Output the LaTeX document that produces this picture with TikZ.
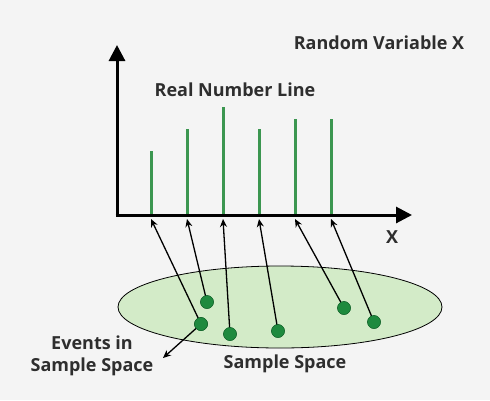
\documentclass[tikz,border=0pt]{standalone}
\usepackage{fontspec}
\setmainfont{Open Sans}
\usetikzlibrary{arrows.meta,shapes.geometric}
\definecolor{bg}{HTML}{F4F4F4}
\definecolor{bar}{HTML}{3B9650}
\definecolor{dot}{HTML}{1E8A3E}
\definecolor{ellfill}{HTML}{D3EBC8}
\tikzset{
  axis/.style={line width=3pt,-{Triangle[length=16pt,width=16pt]}},
  barline/.style={bar,line width=3pt},
  evt/.style={circle,fill=dot,draw=dot!70!black,line width=0.4pt,minimum size=13pt,inner sep=0pt},
  maparrow/.style={line width=1.3pt,-{Stealth[length=8pt,width=7pt]}},
  lbl/.style={font=\bfseries\fontsize{18}{22}\selectfont,text=black!82,inner sep=0pt}
}
\begin{document}
\begin{tikzpicture}[x=1pt,y=-1pt]
\fill[bg] (0,0) rectangle (490,400);
\useasboundingbox (0,0) rectangle (490,400);
% sample space
\node[ellipse,draw=black,line width=0.8pt,fill=ellfill,minimum width=324pt,minimum height=82pt,inner sep=0pt] (ss) at (280,307) {};
% axes
\coordinate (o) at (117,215);
\coordinate (ytip) at (117,45);
\coordinate (xtip) at (412,215);
\draw[axis] (117,216.5) -- (ytip);
\draw[axis] (115.5,215) -- (xtip);
% bars
\foreach \n/\x/\t in {1/151/151,2/187/129,3/223/107,4/259/129,5/295/119,6/331/119}{
  \coordinate (b\n) at (\x,214);
  \coordinate (t\n) at (\x,\t);
  \coordinate (a\n) at (\x,219);
  \draw[barline] (b\n) -- (t\n);
}
% events
\node[evt] (e1) at (201,324) {};
\node[evt] (e2) at (207,302) {};
\node[evt] (e3) at (230,334) {};
\node[evt] (e4) at (278,331) {};
\node[evt] (e5) at (344,308) {};
\node[evt] (e6) at (374,322) {};
\draw[maparrow] (e1.center) -- (a1);
\draw[maparrow] (e2.center) -- (a2);
\draw[maparrow] (e3.center) -- (a3);
\draw[maparrow] (e4.center) -- (a4);
\draw[maparrow] (e5.center) -- (a5);
\draw[maparrow] (e6.center) -- (a6);
\foreach \n in {1,...,6}{\node[evt] at (e\n) {};}
% labels
\node[lbl] (rvx) at (379,43) {Random Variable X};
\node[lbl] (rnl) at (235,90) {Real Number Line};
\node[lbl] (xl) at (392,237) {X};
\node[lbl] (ssl) at (285,364) {Sample Space};
\node[lbl,align=center] (evl) at (92,356) {Events in\\Sample Space};
\coordinate (evtip) at (163,358);
\draw[maparrow] (e1.center) -- (evtip);
\node[evt] at (e1) {};
\end{tikzpicture}
\end{document}
